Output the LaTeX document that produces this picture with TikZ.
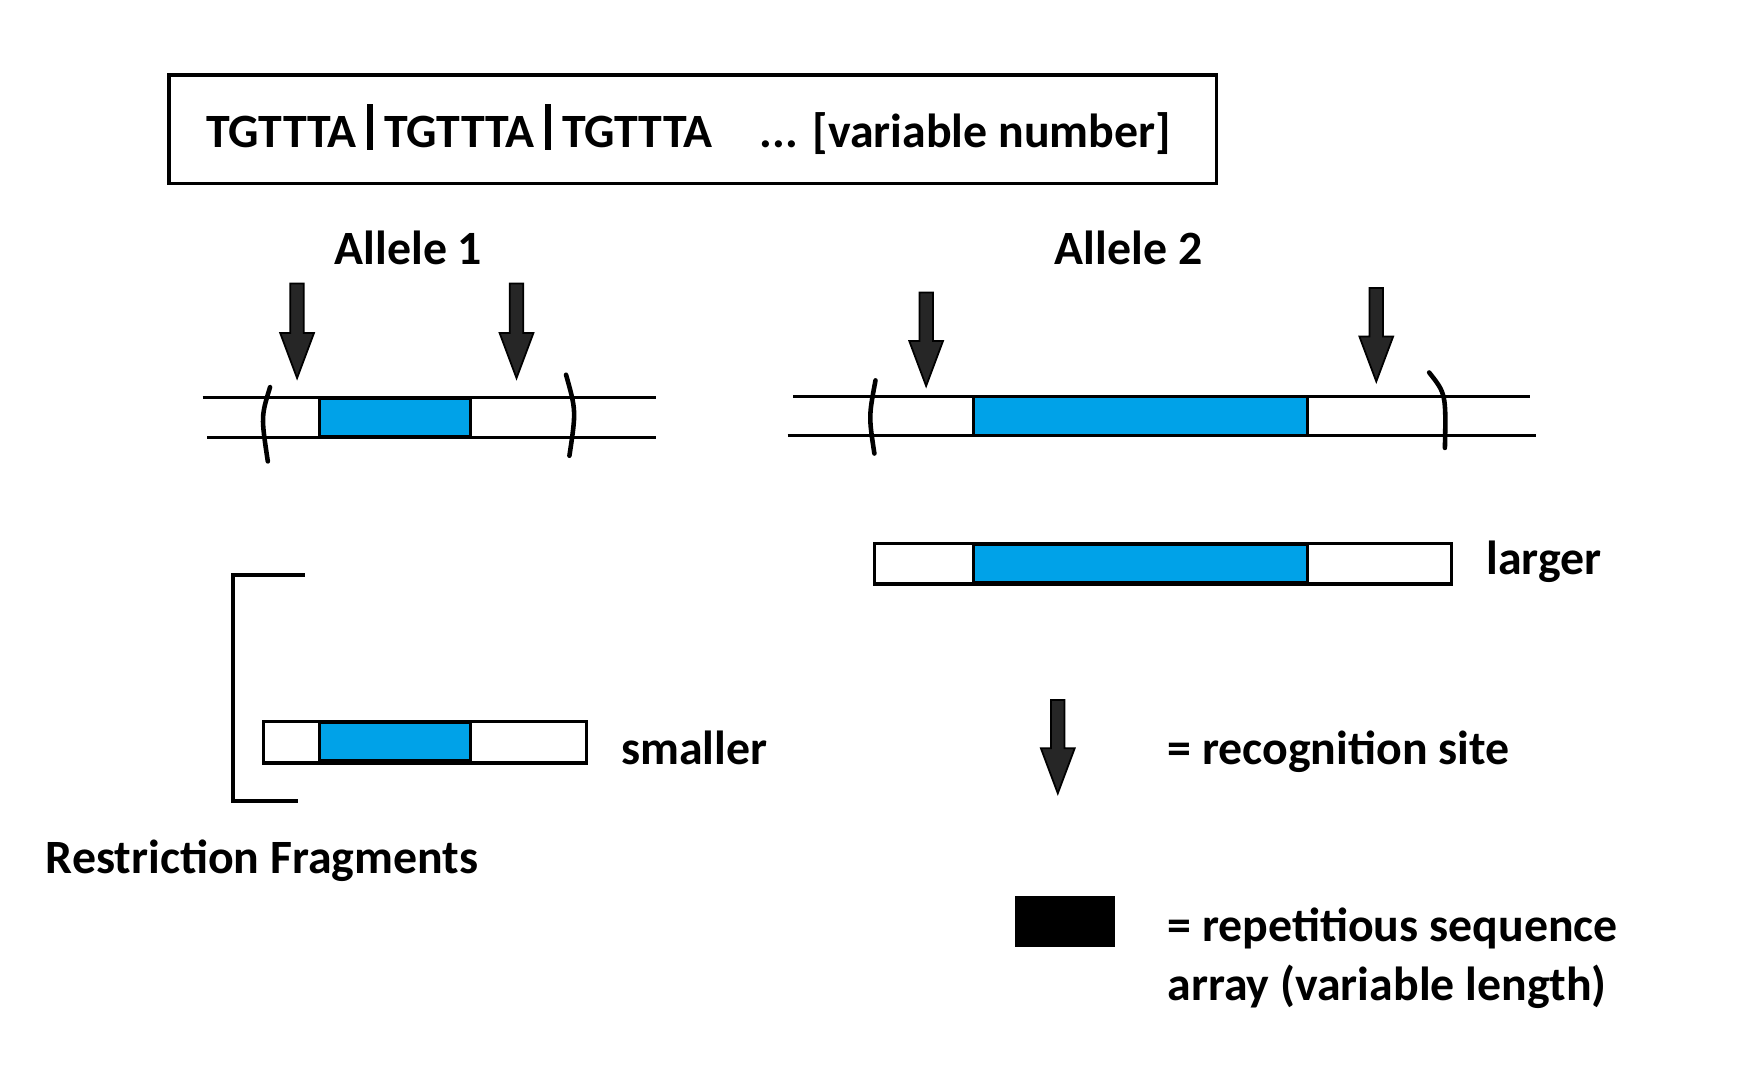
\documentclass[tikz,border=0pt]{standalone}
\usepackage{fontspec}
\setmainfont{Carlito}
\usetikzlibrary{positioning}
\definecolor{repblue}{HTML}{00A2E8}
\tikzset{
  lbl/.style={font=\fontsize{13.6}{16}\selectfont\bfseries, inner sep=0pt},
  strand/.style={line width=0.9pt},
  repeat/.style={fill=repblue, draw=black, line width=0.9pt},
  frag/.style={draw=black, line width=0.9pt},
  cut/.style={line width=1.3pt, line cap=round}
}
% block arrow pointing down: x, top y, tip y
\newcommand{\siteArrow}[3]{%
  \fill[black!85, draw=black, line width=0.5pt]
    (#1-6,#2) -- (#1+6,#2) -- (#1+6,#3-40) -- (#1+15,#3-40) -- (#1,#3)
    -- (#1-15,#3-40) -- (#1-6,#3-40) -- cycle;}
\newcommand{\sepBar}{\rule[-0.05em]{0.13em}{0.95em}}
\begin{document}
\begin{tikzpicture}[x=0.01125cm, y=-0.01125cm]
  \useasboundingbox (0,0) rectangle (1564,960);

  % header box
  \draw[line width=1.1pt] (150,67) rectangle (1081,163);
  \node[lbl] (seq) at (612,115) {TGTTTA \sepBar\ TGTTTA \sepBar\ TGTTTA\quad ... [variable number]};

  % alleles
  \node[lbl] (al1) at (363,220) {Allele 1};
  \node[lbl] (al2) at (1003,220) {Allele 2};

  % allele 1
  \draw[strand] (180,353) -- (583,353);
  \draw[strand] (184,389) -- (583,389);
  \draw[repeat] (284,354) rectangle (418,388);
  \draw[cut] (240,344) .. controls (232,370) .. (238,410);
  \draw[cut] (503,333) .. controls (512,365) .. (506,405);
  \siteArrow{264}{252}{336}
  \siteArrow{459}{252}{336}

  % allele 2
  \draw[strand] (705,352) -- (1360,352);
  \draw[strand] (700,387) -- (1365,387);
  \draw[repeat] (865,352) rectangle (1162,387);
  \draw[cut] (778,338) .. controls (772,370) .. (777,403);
  \draw[cut] (1270,331) .. controls (1285,350) .. (1284,398);
  \siteArrow{823}{260}{343}
  \siteArrow{1223}{256}{339}

  % larger fragment
  \draw[frag] (777,483) rectangle (1290,519);
  \draw[repeat] (865,484) rectangle (1162,518);
  \node[lbl] (larger) at (1372,499) {larger};

  % smaller fragment and bracket
  \draw[line width=1.1pt] (271,511) -- (207,511) -- (207,712) -- (265,712);
  \draw[frag] (234,641) rectangle (521,678);
  \draw[repeat] (284,642) rectangle (418,676);
  \node[lbl] (smaller) at (617,665) {smaller};
  \node[lbl] (frags) at (233,765) {Restriction Fragments};

  % legend
  \siteArrow{940}{622}{705}
  \node[lbl, anchor=west] (site) at (1037,668) {= recognition site};
  \draw[fill=black, line width=0.9pt] (903,798) rectangle (989,840);
  \node[lbl, anchor=west] (rep1) at (1037,825) {= repetitious sequence};
  \node[lbl, anchor=west] (rep2) at (1037,877) {array (variable length)};
\end{tikzpicture}
\end{document}
